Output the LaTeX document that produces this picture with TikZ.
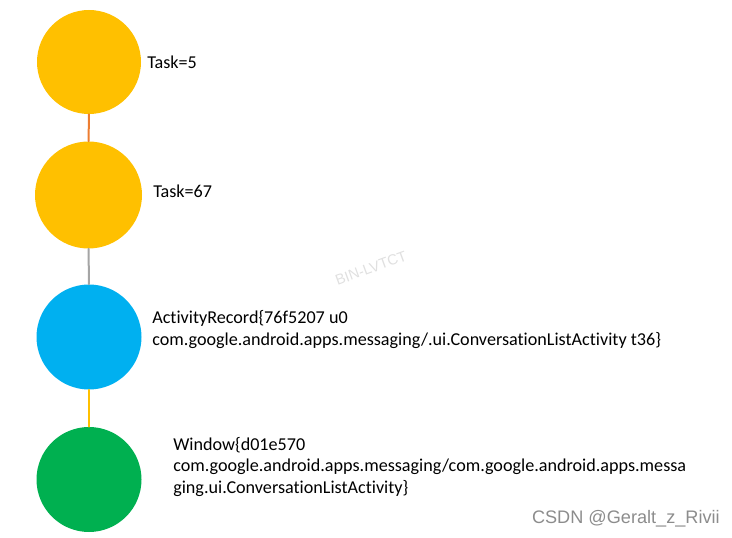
\documentclass[tikz,border=0pt]{standalone}
\usepackage{fontspec}
\setmainfont[Ligatures=NoCommon]{Carlito}
\newfontfamily\wmfont{Liberation Sans}
\begin{document}
\begin{tikzpicture}[x=0.75pt,y=-0.75pt, font=\fontsize{13.6}{16.2}\selectfont, line join=round, line cap=round,
  ball/.style={circle, inner sep=0pt, minimum size=#1*0.75pt},
  lbl/.style={anchor=west, align=left, inner sep=0pt}]
\useasboundingbox (0,0) rectangle (732,538);
\definecolor{cyellow}{HTML}{FFC000}
\definecolor{cblue}{HTML}{00B0F0}
\definecolor{cgreen}{HTML}{00B050}
\definecolor{corange}{HTML}{ED7D31}
\definecolor{cgray}{HTML}{A5A5A5}
\node[ball=104, fill=cyellow] (t5) at (89,62) {};
\node[ball=107, fill=cyellow] (t67) at (88.5,195) {};
\node[ball=105, fill=cblue] (ar) at (89,337) {};
\node[ball=105, fill=cgreen] (win) at (89,479.5) {};
\draw[corange, line width=1.5pt] (t5) -- (t67);
\draw[cgray, line width=1.5pt] (t67) -- (ar);
\draw[cyellow, line width=1.5pt] (ar) -- (win);
\node[lbl] (t5txt) at (147,62) {Task=5};
\node[lbl] (t67txt) at (153,191) {Task=67};
\node[lbl] (artxt) at (152,329.5) {ActivityRecord\{76f5207 u0\\com.google.android.apps.messaging/.ui.ConversationListActivity t36\}};
\node[lbl] (wintxt) at (173,467) {Window\{d01e570\\com.google.android.apps.messaging/com.google.android.apps.messa\\ging.ui.ConversationListActivity\}};
% watermarks
\node[rotate=20, text=black!12, font=\wmfont\fontsize{11}{12}\selectfont, inner sep=0pt] (wm) at (371,268) {BIN-LVTCT};
\node[anchor=east, text=black!45, font=\wmfont\fontsize{13.6}{15}\selectfont, inner sep=0pt] (csdn) at (720,519) {CSDN @Geralt\_z\_Rivii};
\end{tikzpicture}
\end{document}
